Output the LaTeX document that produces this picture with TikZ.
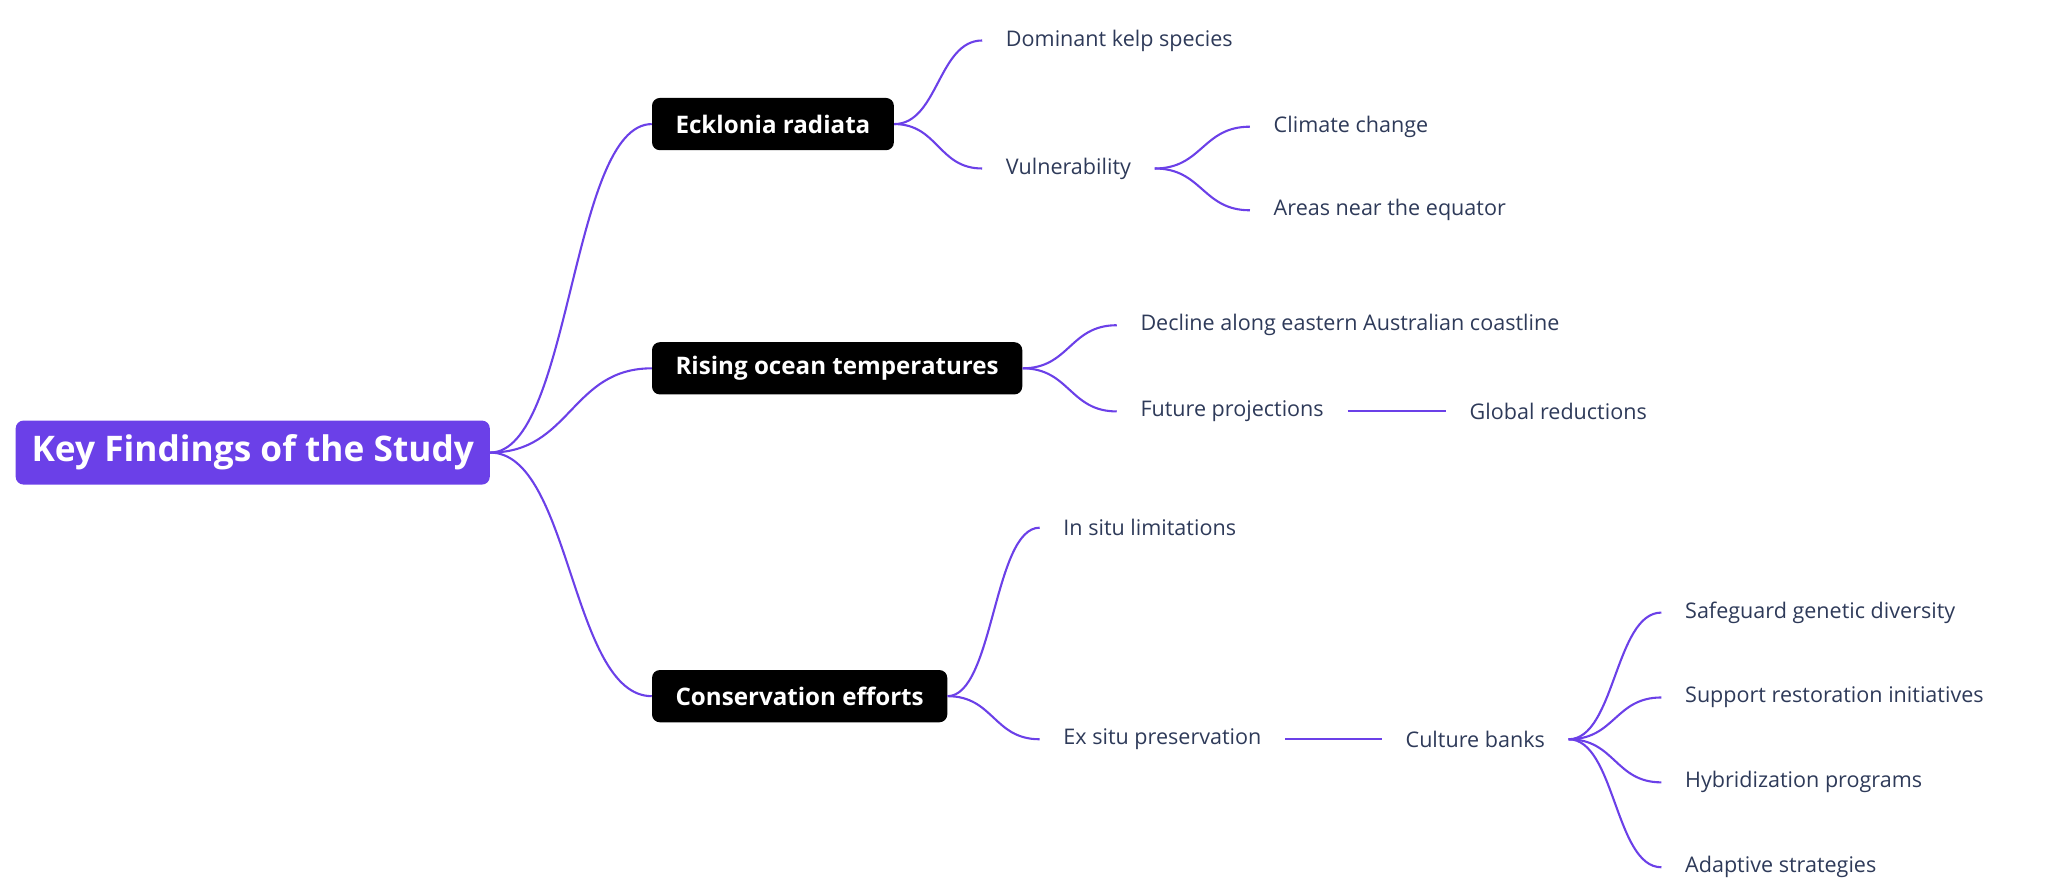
\documentclass[tikz,border=0pt]{standalone}
\usepackage{fontspec}
\setmainfont{Open Sans}
\usetikzlibrary{calc}
\definecolor{brand}{HTML}{6B40E8}
\definecolor{inkblue}{HTML}{2E3A59}
\tikzset{
  branch/.style={draw=brand, line width=1.6pt,
    to path={let \p1=(\tikztostart), \p2=(\tikztotarget) in
      .. controls ({0.5*\x1+0.5*\x2},\y1) and ({0.5*\x1+0.5*\x2},\y2) .. (\tikztotarget)}},
  rootbox/.style={fill=brand, rounded corners=6pt, text=white, font=\fontsize{27}{32}\selectfont\bfseries,
    minimum width=363pt, minimum height=49pt, inner sep=0pt},
  topic/.style={fill=black, rounded corners=6pt, text=white, font=\fontsize{18.5}{22}\selectfont\bfseries,
    minimum height=40pt, inner xsep=18pt, inner ysep=0pt},
  leaf/.style={text=inkblue, font=\fontsize{16.5}{20}\selectfont, inner xsep=18pt, inner ysep=2pt}
}
\begin{document}
\begin{tikzpicture}[x=1pt,y=-1pt]
  \useasboundingbox (0,0) rectangle (1568,684);

  % root and topics
  \node[rootbox] (root) at (193.5,346.5) {Key Findings of the Study};
  \node[topic, anchor=west] (eck) at (499,95) {Ecklonia radiata};
  \node[topic, anchor=west] (rise) at (499,282) {Rising ocean temperatures};
  \node[topic, anchor=west] (cons) at (499,533) {Conservation efforts};

  % leaves
  \node[leaf, anchor=west] (dom) at (752,31) {Dominant kelp species};
  \node[leaf, anchor=west] (vul) at (752,129) {Vulnerability};
  \node[leaf, anchor=west] (clim) at (957,97) {Climate change};
  \node[leaf, anchor=west] (equ) at (957,161) {Areas near the equator};
  \node[leaf, anchor=west] (dec) at (855,249) {Decline along eastern Australian coastline};
  \node[leaf, anchor=west] (fut) at (855,315) {Future projections};
  \node[leaf, anchor=west] (glob) at (1107,315) {Global reductions};
  \node[leaf, anchor=west] (insitu) at (796,404) {In situ limitations};
  \node[leaf, anchor=west] (exsitu) at (796,566) {Ex situ preservation};
  \node[leaf, anchor=west] (bank) at (1058,566) {Culture banks};
  \node[leaf, anchor=west] (safe) at (1272,469) {Safeguard genetic diversity};
  \node[leaf, anchor=west] (supp) at (1272,534) {Support restoration initiatives};
  \node[leaf, anchor=west] (hyb) at (1272,599) {Hybridization programs};
  \node[leaf, anchor=west] (adapt) at (1272,664) {Adaptive strategies};

  % connectors
  \foreach \t in {eck,rise,cons} \draw[branch] (root.east) to (\t.west);
  \foreach \t in {dom,vul} \draw[branch] (eck.east) to (\t.west);
  \foreach \t in {clim,equ} \draw[branch] (vul.east) to (\t.west);
  \foreach \t in {dec,fut} \draw[branch] (rise.east) to (\t.west);
  \foreach \t in {insitu,exsitu} \draw[branch] (cons.east) to (\t.west);
  \foreach \t in {safe,supp,hyb,adapt} \draw[branch] (bank.east) to (\t.west);
  \draw[brand, line width=1.6pt] (fut.east) -- (glob.west);
  \draw[brand, line width=1.6pt] (exsitu.east) -- (bank.west);
\end{tikzpicture}
\end{document}
